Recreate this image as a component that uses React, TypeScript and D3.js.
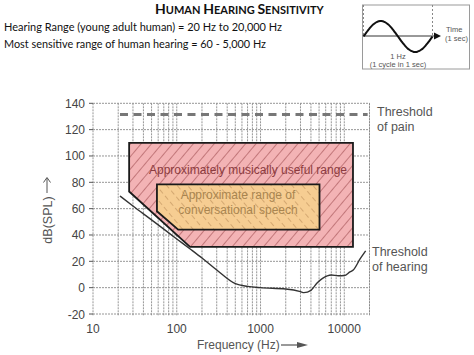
import React from "react";
import * as d3 from "d3";

const W = 474, H = 355;

const freqTicks = [10, 100, 1000, 10000];
const dbTicks = [-20, 0, 20, 40, 60, 80, 100, 120, 140];

const hearingFreq = [21, 30, 50, 100, 150, 200, 300, 500, 700, 1000, 2000, 3000, 3300, 4000, 4700, 5500, 7000, 8500, 10000, 11700, 12800, 15500, 18000];
const hearingDb = [69.6, 62, 51.5, 37, 28.6, 22.5, 13.4, 3, 1, 0, -1, -3, -3.8, -2, 3.3, 7, 9.6, 9, 9.2, 12, 13.4, 22, 28];

const painFreq = [21, 19000];
const painDb = [131.5, 131.5];

const musicFreq = [27, 12700, 12700, 144, 27];
const musicDb = [110, 110, 31, 31, 73];

const speechFreq = [58, 5060, 5060, 104, 58];
const speechDb = [78.5, 78.5, 44, 44, 58];

const subtitleLines = [
  "Hearing Range (young adult human)  = 20 Hz to 20,000 Hz",
  "Most sensitive range of human hearing = 60 - 5,000 Hz",
];

const x = d3.scaleLog().domain([10, 20000]).range([93, 369.5]);
const y = d3.scaleLinear().domain([-20, 140]).range([314, 103.3]);

function minorFreqs(): number[] {
  const out: number[] = [];
  for (let dec = 10; dec < 20000; dec *= 10) {
    for (let m = 1; m <= 9; m++) {
      const f = dec * m;
      if (f <= 20000) out.push(f);
    }
  }
  return out;
}

const chartFont = "'Liberation Sans', Arial, sans-serif";
const textFont = "Lato, 'Open Sans', sans-serif";

export default function App() {
  const poly = (fs: number[], ds: number[]) =>
    fs.map((f, i) => `${x(f)},${y(ds[i])}`).join(" ");
  const hearingLine = d3
    .line<number>()
    .x((d, i) => x(hearingFreq[i]))
    .y((d) => y(d))
    .curve(d3.curveMonotoneX)(hearingDb) as string;

  const gridColor = "#8a8a8a";
  const vLines = minorFreqs();

  // inset sine
  const sx = d3.scaleLinear().domain([0, 1]).range([363.5, 432.5]);
  const sy = d3.scaleLinear().domain([-1, 1]).range([52, 21]);
  const sinePts = d3.range(0, 1.0001, 0.02);
  const sinePath = d3
    .line<number>()
    .x((t) => sx(t))
    .y((t) => sy(Math.sin(2 * Math.PI * t)))
    .curve(d3.curveBasis)(sinePts) as string;

  return (
    <svg width={W} height={H} style={{ position: "absolute", left: 0, top: 0, background: "#fff" }}>
      <defs>
        <pattern id="hatchPink" patternUnits="userSpaceOnUse" width="8" height="8" patternTransform="rotate(40)">
          <rect width="8" height="8" fill="#f3b3b5" />
          <line x1="0" y1="0" x2="0" y2="8" stroke="#9a4448" strokeWidth="1.1" />
        </pattern>
        <pattern id="hatchOrange" patternUnits="userSpaceOnUse" width="8" height="8" patternTransform="rotate(-40)">
          <rect width="8" height="8" fill="#f6cd92" />
          <line x1="0" y1="0" x2="0" y2="5" stroke="#b98a55" strokeWidth="1.1" />
        </pattern>
      </defs>

      {/* Title */}
      <text x={155} y={14} fontFamily={textFont} fontWeight="bold" fill="#111">
        <tspan fontSize="14">H</tspan><tspan fontSize="11">UMAN </tspan>
        <tspan fontSize="14">H</tspan><tspan fontSize="11">EARING </tspan>
        <tspan fontSize="14">S</tspan><tspan fontSize="11">ENSITIVITY</tspan>
      </text>
      {subtitleLines.map((s, i) => (
        <text key={i} x={4} y={31 + i * 16.5} fontFamily={textFont} fontSize="12" fill="#111"
          textLength={i === 0 ? 278 : 262} lengthAdjust="spacingAndGlyphs">{s}</text>
      ))}

      {/* Inset */}
      <rect x={362.5} y={5} width={107} height={64} fill="#fff" stroke="#9a9a9a" strokeWidth={1} />
      <line x1={363.5} y1={5} x2={363.5} y2={36} stroke="#888" strokeDasharray="2,2" />
      <line x1={432.5} y1={5} x2={432.5} y2={36} stroke="#888" strokeDasharray="2,2" />
      <line x1={363.5} y1={36} x2={436} y2={36} stroke="#333" strokeWidth={1} />
      <path d="M434,32.5 L441,36 L434,39.5 Z" fill="#111" />
      <path d={sinePath} fill="none" stroke="#111" strokeWidth={2} />
      <text x={446} y={32} fontFamily={chartFont} fontSize="7.5" fill="#555">Time</text>
      <text x={445} y={41} fontFamily={chartFont} fontSize="7.5" fill="#555">(1 sec)</text>
      <text x={398} y={59} textAnchor="middle" fontFamily={chartFont} fontSize="7.5" fill="#555">1 Hz</text>
      <text x={398} y={67} textAnchor="middle" fontFamily={chartFont} fontSize="7.5" fill="#555">(1 cycle in 1 sec)</text>

      {/* Grid */}
      {vLines.map((f, i) => (
        <line key={"v" + i} x1={x(f)} x2={x(f)} y1={y(140)} y2={y(-20) + 2}
          stroke={gridColor} strokeWidth={0.9} strokeDasharray="2,1" />
      ))}
      <line x1={x(20000)} x2={x(20000)} y1={y(140)} y2={y(-20)} stroke={gridColor} strokeWidth={0.9} strokeDasharray="2,1" />
      {dbTicks.map((d) => (
        <g key={"h" + d}>
          <line x1={x(10)} x2={x(20000)} y1={y(d)} y2={y(d)} stroke={gridColor} strokeWidth={0.9} strokeDasharray="2,1" />
          <line x1={x(10) - 4} x2={x(10)} y1={y(d)} y2={y(d)} stroke="#555" strokeWidth={1} />
          <text x={85} y={y(d) + 4.5} textAnchor="end" fontFamily={chartFont} fontSize="12" fill="#444">{d}</text>
        </g>
      ))}
      {freqTicks.map((f) => (
        <text key={"f" + f} x={x(f)} y={333} textAnchor="middle" fontFamily={chartFont} fontSize="12" fill="#444">{f}</text>
      ))}

      {/* Threshold of pain */}
      <line x1={x(painFreq[0])} x2={x(painFreq[1])} y1={y(painDb[0])} y2={y(painDb[1])}
        stroke="#777" strokeWidth={2.8} strokeDasharray="8,5.5" />

      {/* Regions */}
      <polygon points={poly(musicFreq, musicDb)} fill="url(#hatchPink)" stroke="#1a1a1a" strokeWidth={1.8} />
      <polygon points={poly(speechFreq, speechDb)} fill="url(#hatchOrange)" stroke="#1a1a1a" strokeWidth={1.8} />

      <text x={248} y={174} textAnchor="middle" fontFamily={chartFont} fontSize="12" fill="#8c3b40">Approximately musically useful range</text>
      <text x={238} y={199} textAnchor="middle" fontFamily={chartFont} fontSize="12" fill="#a98550">Approximate range of</text>
      <text x={238} y={214} textAnchor="middle" fontFamily={chartFont} fontSize="12" fill="#a98550">conversational speech</text>

      {/* Threshold of hearing */}
      <path d={hearingLine} fill="none" stroke="#333" strokeWidth={1.4} />

      <text x={377} y={116} fontFamily={chartFont} fontSize="12.5" fill="#555">Threshold</text>
      <text x={377} y={131} fontFamily={chartFont} fontSize="12.5" fill="#555">of pain</text>
      <text x={372} y={256} fontFamily={chartFont} fontSize="12.5" fill="#555">Threshold</text>
      <text x={372} y={271} fontFamily={chartFont} fontSize="12.5" fill="#555">of hearing</text>

      {/* Axis labels */}
      <text transform="translate(52,220) rotate(-90)" textAnchor="middle" fontFamily={chartFont} fontSize="12.5" fill="#555">dB(SPL)</text>
      <line x1={47} y1={193} x2={47} y2={178} stroke="#555" strokeWidth={1} />
      <path d="M43.5,182.5 L47,177.5 L50.5,182.5" fill="none" stroke="#555" strokeWidth={1} />

      <text x={197} y={349} fontFamily={chartFont} fontSize="12" fill="#555">Frequency (Hz)</text>
      <line x1={281} y1={345} x2={300} y2={345} stroke="#555" strokeWidth={1.2} />
      <path d="M297,342 L308,345 L297,348 Z" fill="#555" />
    </svg>
  );
}
